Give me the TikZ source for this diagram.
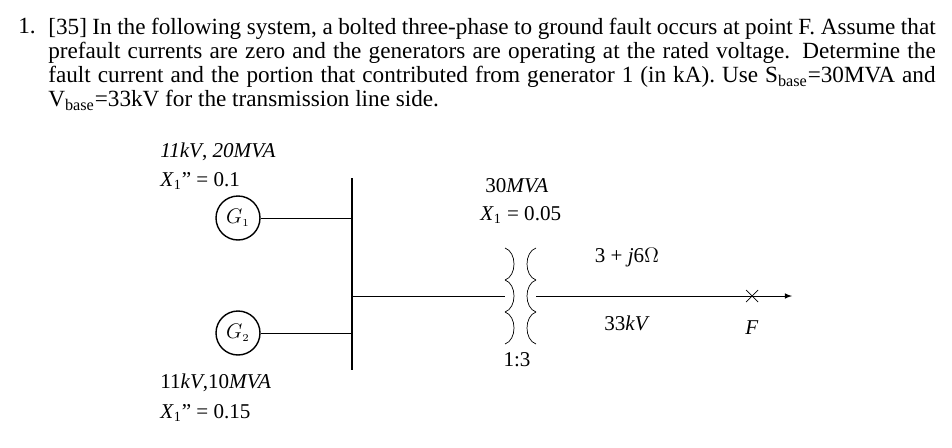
\documentclass[tikz,border=0pt]{standalone}
\usepackage{fontspec}
\setmainfont{Liberation Serif}
\usetikzlibrary{positioning}
\begin{document}
\begin{tikzpicture}[x=0.02cm,y=-0.02cm,font=\fontsize{12}{14}\selectfont,
  gen/.style={draw,thick,circle,minimum size=0.88cm,inner sep=0pt},
  lbl/.style={inner sep=0pt,anchor=west}]
\useasboundingbox (0,0) rectangle (952,447);

% problem statement
\node[lbl,anchor=north west,font=\fontsize{13.2}{13.6}\selectfont] (num) at (18,18) {1.};
\node[lbl,anchor=north west,text width=17.75cm,align=justify,font=\fontsize{13.2}{13.6}\selectfont] (stmt) at (48,18)
 {[35] In the following system, a bolted three-phase to ground fault occurs at point F. Assume that prefault currents are zero and the generators are operating at the rated voltage. Determine the fault current and the portion that contributed from generator 1 (in kA). Use S\textsubscript{base}=30MVA and V\textsubscript{base}=33kV for the transmission line side.};

% generators and bus
\node[gen] (g1) at (238,218) {$G_{\scriptscriptstyle 1}$};
\node[gen] (g2) at (238,333) {$G_{\scriptscriptstyle 2}$};
\coordinate (bt) at (352,178);
\coordinate (bb) at (352,370);
\draw [thick] (bt) -- (bb);
\draw (g1.east) -- (g1.east -| bt);
\draw (g2.east) -- (g2.east -| bt);

% transformer
\coordinate (tl) at (505,296);
\coordinate (tr) at (536,296);
\draw (352,296) -- (tl);
\foreach \y in {248,280,312}{
  \draw (505,\y) .. controls (517,\y+4) and (517,\y+28) .. (505,\y+32);
  \draw (536,\y) .. controls (524,\y+4) and (524,\y+28) .. (536,\y+32);
}

% line and fault
\coordinate (fe) at (792,296);
\draw [-latex] (tr) -- (fe);
\draw (746,290) -- (758,302) (746,302) -- (758,290);

% labels
\node[lbl] (g1r) at (160,152) {\textit{11kV}, \textit{20MVA}};
\node[lbl] (g1x) at (160,181) {\textit{X}\textsubscript{1}" = 0.1};
\node[lbl] (g2r) at (160,383) {11\textit{kV},10\textit{MVA}};
\node[lbl] (g2x) at (160,413) {\textit{X}\textsubscript{1}" = 0.15};
\node[lbl] (tr1) at (485,186) {30\textit{MVA}};
\node[lbl] (tr2) at (480,215) {\textit{X}\textsubscript{1} = 0.05};
\node (rat) at (517,360) {1:3};
\node (imp) at (627,258) {3 + \textit{j}6$\Omega$};
\node (vl) at (627,323) {33\textit{kV}};
\node (fl) at (752,328) {\textit{F}};
\end{tikzpicture}
\end{document}
